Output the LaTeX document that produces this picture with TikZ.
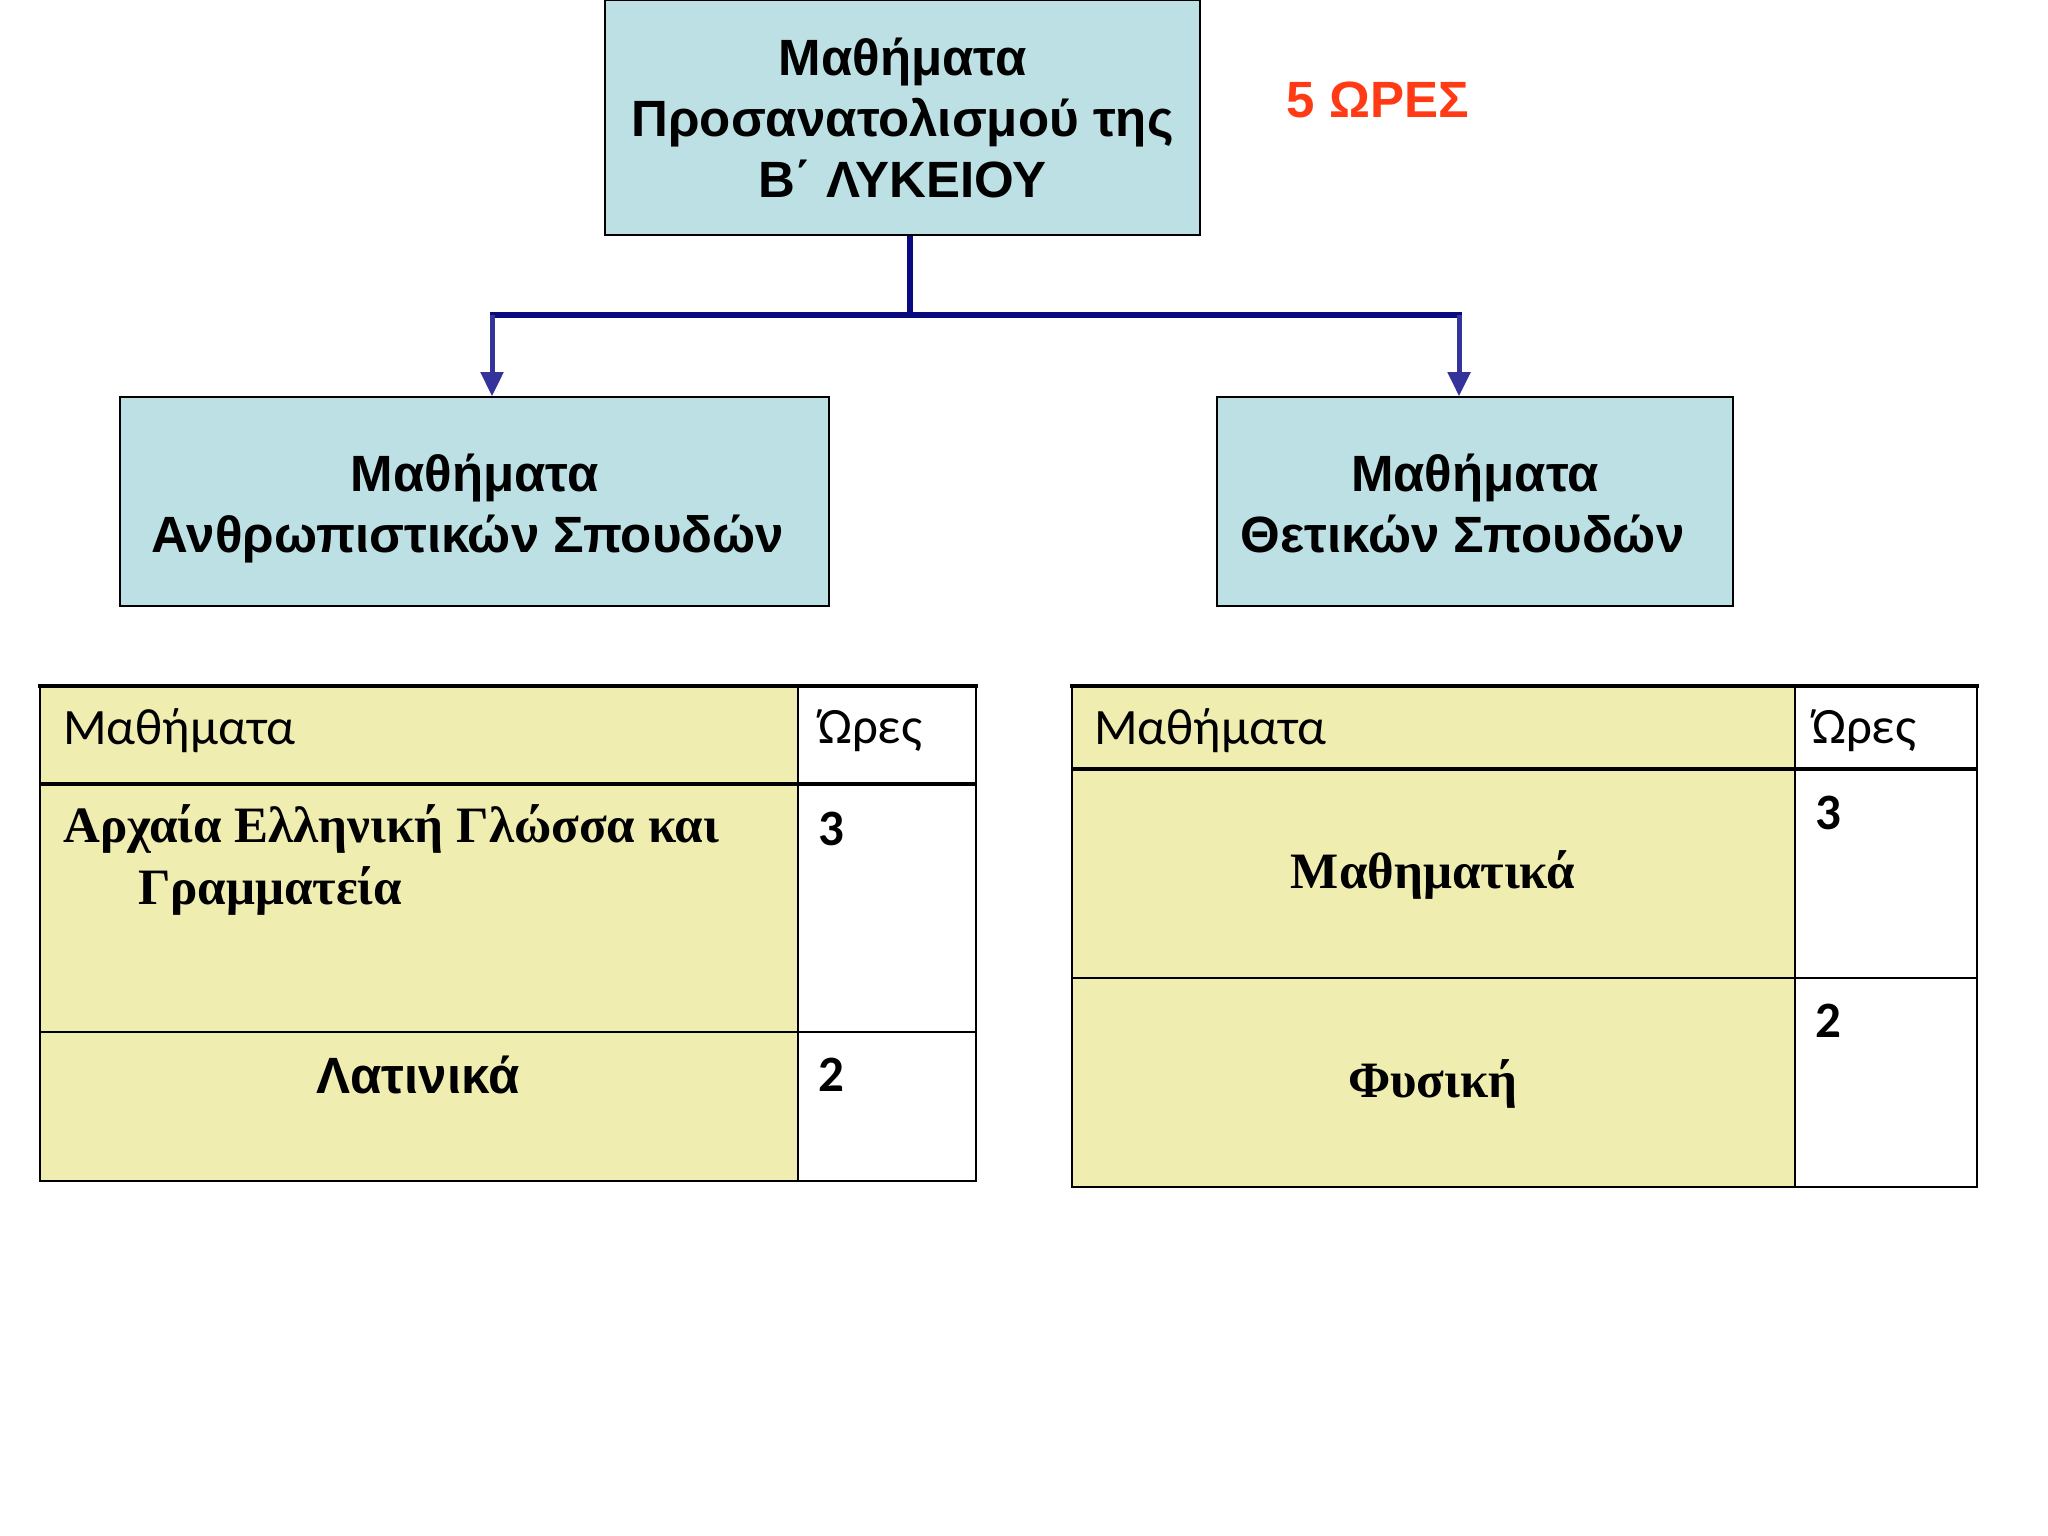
\documentclass[tikz,border=0pt]{standalone}
\usepackage{fontspec}
\setmainfont{Liberation Sans}
\newfontfamily\boxsans{Liberation Sans}
\newfontfamily\calfont{Carlito}
\newfontfamily\tabserif{Liberation Serif}
\usetikzlibrary{arrows.meta}
\definecolor{boxblue}{HTML}{BCE0E3}
\definecolor{tabyellow}{HTML}{EFEDB0}
\definecolor{navy}{HTML}{0A0A80}
\definecolor{arrblue}{HTML}{333399}
\definecolor{hourred}{HTML}{FF3A14}
\tikzset{
  bluebox/.style={draw=black, line width=1.6pt, fill=boxblue, align=center,
    font=\boxsans\bfseries\fontsize{51}{61}\selectfont, inner sep=0pt},
  conn/.style={draw=navy, line width=6.5pt},
  arrline/.style={draw=arrblue, line width=5pt, -{Triangle[length=24pt,width=22pt]}},
  headtxt/.style={font=\calfont\fontsize{51}{60}\selectfont, anchor=west, inner sep=0pt},
  hourtxt/.style={font=\calfont\bfseries\fontsize{51}{60}\selectfont, anchor=west, inner sep=0pt},
  serifbf/.style={font=\tabserif\bfseries\fontsize{51}{63}\selectfont, inner sep=0pt},
  sansbf/.style={font=\boxsans\bfseries\fontsize{51}{60}\selectfont, inner sep=0pt},
  thick rule/.style={line width=4.5pt, draw=black},
  thin rule/.style={line width=2.2pt, draw=black},
}
\begin{document}
\begin{tikzpicture}[x=1pt,y=-1pt]
\useasboundingbox[fill=white] (0,0) rectangle (2048,1536);
% top box
\node[bluebox, minimum width=595pt, minimum height=235pt] (top) at (902.5,117.5)
  {Μαθήματα\\Προσανατολισμού της\\Β΄ ΛΥΚΕΙΟΥ};
\node[font=\boxsans\bfseries\fontsize{51}{60}\selectfont, text=hourred, inner sep=0pt] (hours) at (1378,100) {5 ΩΡΕΣ};
% middle boxes
\node[bluebox, minimum width=709pt, minimum height=209pt] (left) at (474.5,501.5)
  {\rule{0pt}{59pt}Μαθήματα\\Ανθρωπιστικών Σπουδών\strut\hspace*{13pt}};
\node[bluebox, minimum width=516pt, minimum height=209pt] (right) at (1475,501.5)
  {\rule{0pt}{59pt}Μαθήματα\\Θετικών Σπουδών\strut\hspace*{25pt}};
% connectors
\coordinate (junc) at (910,315);
\coordinate (la) at (492,315);
\coordinate (ra) at (1459,315);
\draw[conn] (top.south -| junc) -- (junc);
\draw[conn] ([xshift=-2.5pt]la) -- ([xshift=2.5pt]ra);
\draw[arrline] (la) -- (la |- left.north);
\draw[arrline] (ra) -- (ra |- right.north);
% left table
\fill[tabyellow] (40,686) rectangle (798,1181);
\draw[thin rule] (40,686) -- (40,1181) -- (976,1181) -- (976,686);
\draw[thin rule] (798,686) -- (798,1181);
\draw[thin rule] (40,1032) -- (976,1032);
\draw[thick rule] (38,686) -- (978,686);
\draw[thick rule] (40,784) -- (976,784);
\node[headtxt] (lh1) at (63,731) {Μαθήματα};
\node[headtxt] (lh2) at (818,731) {Ώρες};
\node[serifbf, anchor=west] (l1a) at (63,829) {Αρχαία Ελληνική Γλώσσα και};
\node[serifbf, anchor=west] (l1b) at (138,891) {Γραμματεία};
\node[hourtxt] (l1h) at (818,829) {3};
\node[sansbf] (l2) at (418,1075) {Λατινικά};
\node[hourtxt] (l2h) at (818,1075) {2};
% right table
\fill[tabyellow] (1072,686) rectangle (1795,1187);
\draw[thin rule] (1072,686) -- (1072,1187) -- (1977,1187) -- (1977,686);
\draw[thin rule] (1795,686) -- (1795,1187);
\draw[thin rule] (1072,978) -- (1977,978);
\draw[thick rule] (1070,686) -- (1979,686);
\draw[thick rule] (1072,769) -- (1977,769);
\node[headtxt] (rh1) at (1094,731) {Μαθήματα};
\node[headtxt] (rh2) at (1812,731) {Ώρες};
\node[hourtxt] (r1h) at (1815,813) {3};
\node[serifbf] (r1) at (1433,875) {Μαθηματικά};
\node[hourtxt] (r2h) at (1815,1021) {2};
\node[serifbf] (r2) at (1433,1084) {Φυσική};
\end{tikzpicture}
\end{document}
